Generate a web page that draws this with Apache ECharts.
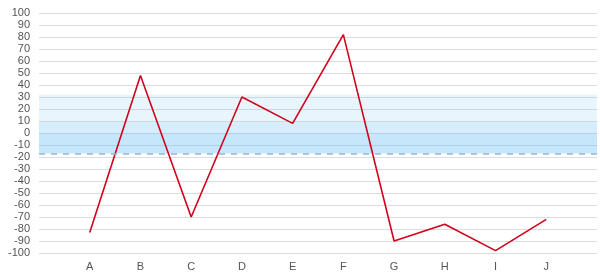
<!DOCTYPE html>
<html><head><meta charset="utf-8">
<script src="https://cdn.jsdelivr.net/npm/echarts@6/dist/echarts.min.js"></script>
<style>html,body{margin:0;padding:0;background:#fff}#c{width:600px;height:276px}</style>
</head><body><div id="c"></div>
<script>
const categories = ['', 'A', 'B', 'C', 'D', 'E', 'F', 'G', 'H', 'I', 'J', ''];
const values = [null, -83, 48, -70, 30, 8, 82, -90, -76, -98, -72, null];
const bands = [[-17, 32], [-17, 9], [-17, 0]];
const thresholdLine = -17;

const chart = echarts.init(document.getElementById('c'));
chart.setOption({
  animation: false,
  grid: { left: 39, right: 0, top: 13, bottom: 23 },
  xAxis: {
    type: 'category', data: categories, boundaryGap: false,
    axisLine: { show: false }, axisTick: { show: false },
    axisLabel: { color: '#555', fontSize: 11, fontFamily: 'Arial, Liberation Sans', interval: 0, margin: 8 },
    splitLine: { show: false }
  },
  yAxis: {
    type: 'value', min: -100, max: 100, interval: 10,
    axisLine: { show: false }, axisTick: { show: false },
    axisLabel: { color: '#555', fontSize: 11, fontFamily: 'Arial, Liberation Sans', margin: 9 },
    splitLine: { lineStyle: { color: '#dcdcdc', width: 1 } }
  },
  series: [{
    type: 'line', data: values, symbol: 'none',
    lineStyle: { color: '#d0021b', width: 1.6 },
    markArea: {
      silent: true,
      itemStyle: { color: 'rgba(120,195,245,0.17)' },
      data: bands.map(b => [{ yAxis: b[0] }, { yAxis: b[1] }])
    },
    markLine: {
      silent: true, symbol: 'none', label: { show: false },
      lineStyle: { color: '#8fb8d8', type: [6, 6], width: 1.5 },
      data: [{ yAxis: thresholdLine }]
    }
  }]
});
</script></body></html>
